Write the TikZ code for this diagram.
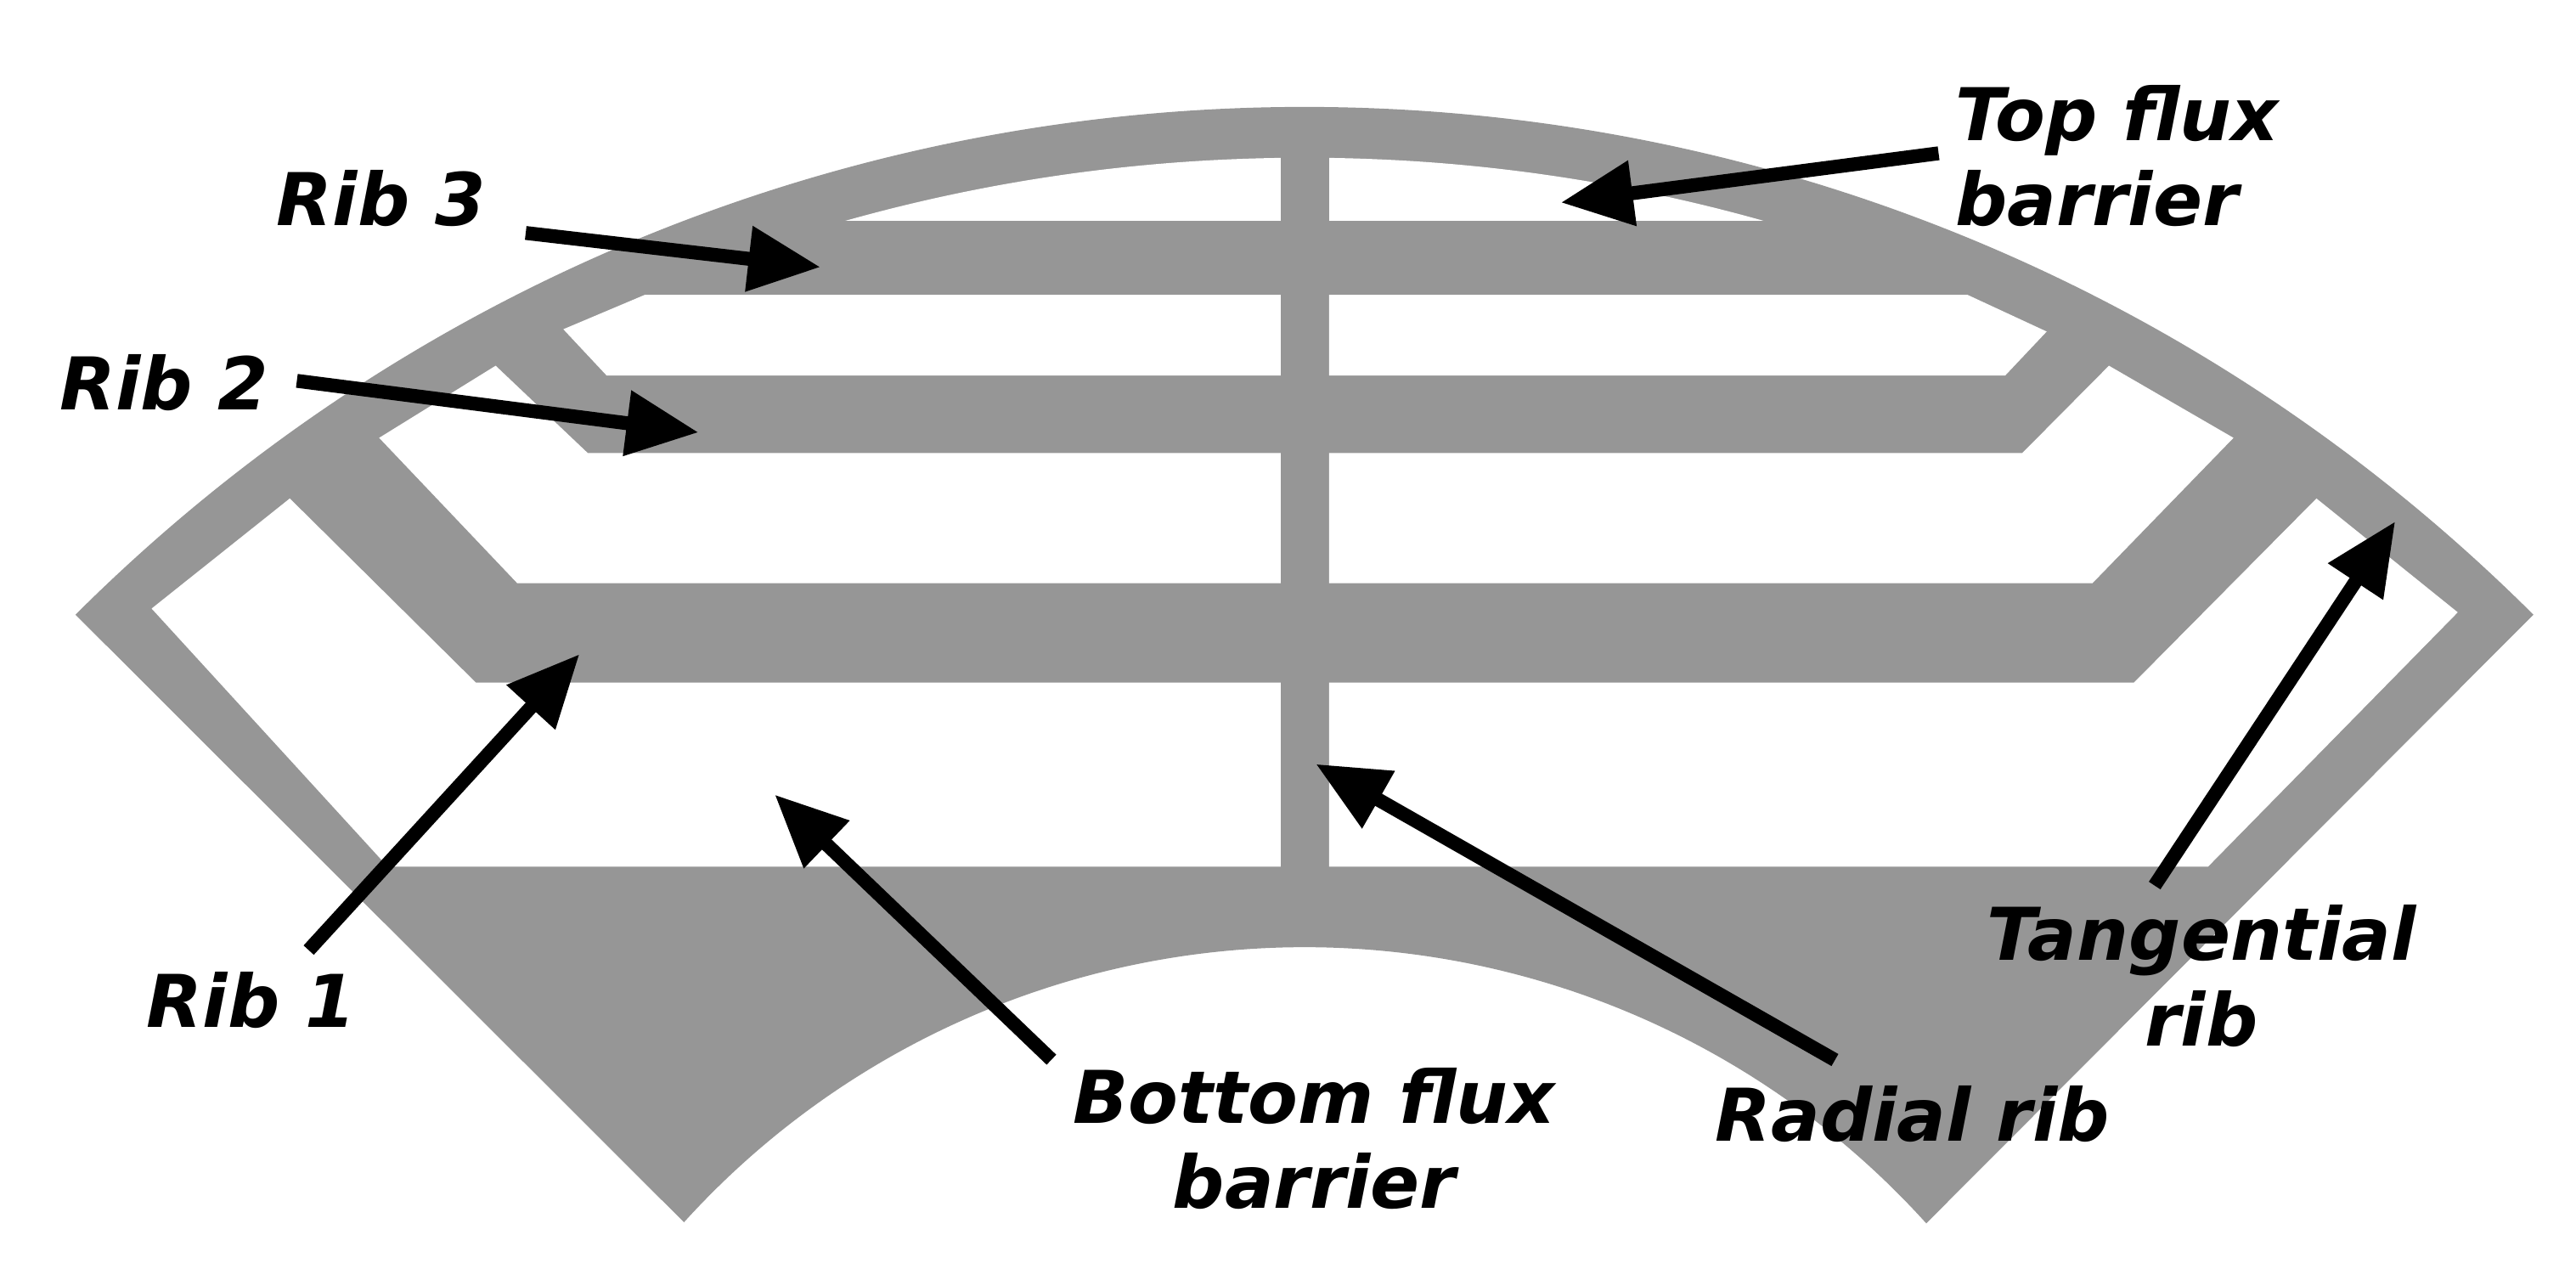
\documentclass[tikz,border=0pt]{standalone}
\usepackage{fontspec}
\setmainfont{DejaVu Sans}
\usetikzlibrary{arrows.meta}
\definecolor{steel}{RGB}{150,150,150}
\tikzset{
  lbl/.style={inner sep=0pt,font=\fontsize{63}{74}\selectfont\bfseries\itshape},
  pointer/.style={line width=12pt,-{Triangle[length=2.2cm,width=1.9cm]}},
  hole/.style={fill=white}
}
\begin{document}
\begin{tikzpicture}[x=0.05cm,y=-0.05cm]
\useasboundingbox (0,0) rectangle (1568,779);
% lamination
\fill[steel] (794,1124.8) ++(225.1:1059.8) arc[start angle=225.1,end angle=314.9,radius=1059.8]
  -- (1172.5,744.6) arc[start angle=317.9,end angle=222.2,radius=510] -- cycle;
% top flux barrier holes (clipped by inner edge of band)
\begin{scope}
\clip (794,1124.8) circle[radius=1028.8];
\fill[hole] (400,40) rectangle (779.5,134.6);
\fill[hole] (809,40) rectangle (1100,134.6);
\end{scope}
% holes between rib3 and rib2
\fill[hole] (342.9,200.4) -- (392.4,179.5) -- (779.5,179.5) -- (779.5,228.6) -- (369.3,228.6) -- cycle;
\fill[hole] (809,179.5) -- (1197.7,179.5) -- (1245.8,201.8) -- (1220.5,228.6) -- (809,228.6) -- cycle;
% holes between rib2 and rib1
\fill[hole] (230.8,266.5) -- (301.7,222.6) -- (357.7,275.7) -- (779.5,275.7) -- (779.5,355) -- (314.9,355) -- cycle;
\fill[hole] (809,275.7) -- (1231,275.7) -- (1283.7,222.6) -- (1359.5,266.5) -- (1273.6,355) -- (809,355) -- cycle;
% bottom flux barrier holes
\fill[hole] (92.3,370.4) -- (176.4,303.4) -- (289.7,415.5) -- (779.5,415.5) -- (779.5,527.5) -- (236,527.5) -- cycle;
\fill[hole] (809,415.5) -- (1298.9,415.5) -- (1410,303.4) -- (1496,372.7) -- (1344,527.5) -- (809,527.5) -- cycle;
% labels
\node[lbl] (r3) at (232,121) {Rib 3};
\node[lbl] (r2) at (100,233) {Rib 2};
\node[lbl] (r1) at (153,609) {Rib 1};
\node[lbl,align=left,anchor=west] (tf) at (1190,95) {Top flux\\barrier};
\node[lbl,align=center] (tg) at (1340,594) {Tangential\\rib};
\node[lbl] (rr) at (1164,678) {Radial rib};
\node[lbl,align=center] (bf) at (800,693) {Bottom flux\\barrier};
% arrow ends
\coordinate (r3s) at (320,141.8);  \coordinate (r3e) at (499.5,162.6);
\coordinate (r2s) at (180.7,231.8); \coordinate (r2e) at (425.3,263.2);
\coordinate (r1s) at (187.9,578.3); \coordinate (r1e) at (352.8,398.1);
\coordinate (tfs) at (1180,93.3);  \coordinate (tfe) at (950,123.3);
\coordinate (bfs) at (640,645);    \coordinate (bfe) at (471.5,483.6);
\coordinate (rrs) at (1116.9,645.2); \coordinate (rre) at (800.9,465);
\coordinate (tgs) at (1311.5,539); \coordinate (tge) at (1458,317.3);
\draw[pointer] (r3s) -- (r3e);
\draw[pointer] (r2s) -- (r2e);
\draw[pointer] (r1s) -- (r1e);
\draw[pointer] (tfs) -- (tfe);
\draw[pointer] (bfs) -- (bfe);
\draw[pointer] (rrs) -- (rre);
\draw[pointer] (tgs) -- (tge);
\end{tikzpicture}
\end{document}
